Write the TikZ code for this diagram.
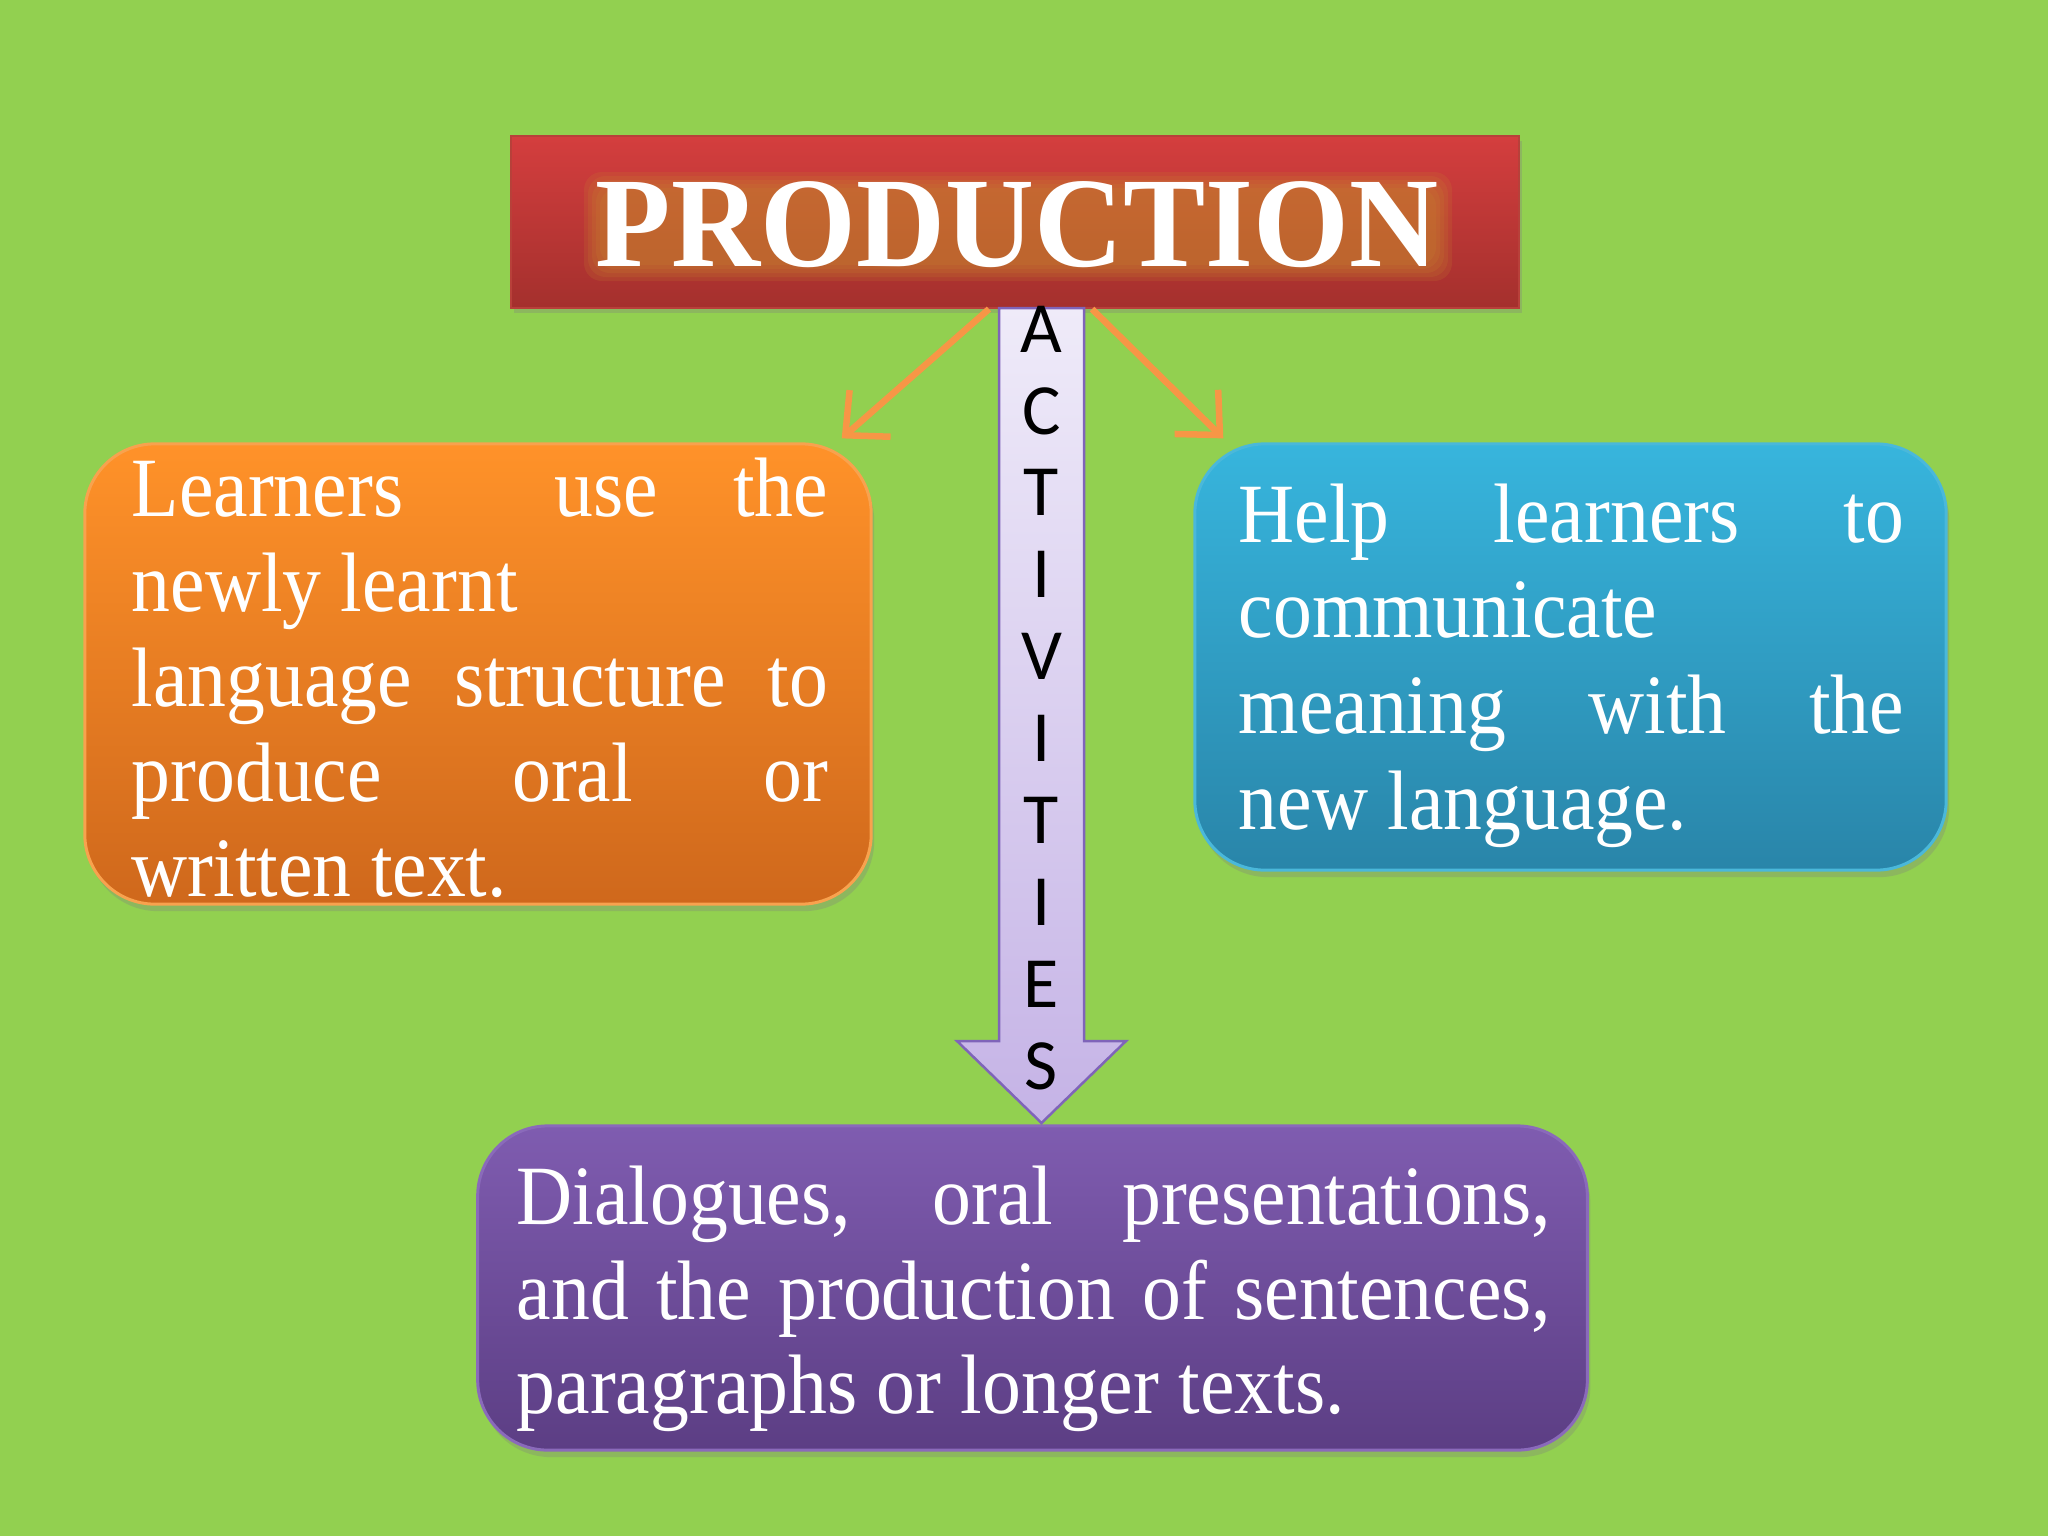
\documentclass[tikz,border=0pt]{standalone}
\usepackage{fontspec}
\setmainfont{Liberation Serif}[FakeStretch=0.92]
\newfontfamily\titlefont{Liberation Serif}[FakeStretch=0.96]
\newfontfamily\letterfont{Carlito}
\usetikzlibrary{arrows.meta,shadows,calc}
\definecolor{bg}{HTML}{92D050}
\definecolor{redTop}{HTML}{D43E3E}
\definecolor{redBot}{HTML}{A4302D}
\definecolor{redBorder}{HTML}{B8403A}
\definecolor{glow}{HTML}{C8882E}
\definecolor{orTop}{HTML}{FF9229}
\definecolor{orBot}{HTML}{CF681C}
\definecolor{orBorder}{HTML}{F8A24E}
\definecolor{blTop}{HTML}{37B5DD}
\definecolor{blBot}{HTML}{2985A9}
\definecolor{blBorder}{HTML}{4AB8DA}
\definecolor{puTop}{HTML}{7F5CB0}
\definecolor{puBot}{HTML}{5C3E84}
\definecolor{puBorder}{HTML}{8A6ABA}
\definecolor{arTop}{HTML}{EFEBF9}
\definecolor{arBot}{HTML}{C5B3E6}
\definecolor{arBorder}{HTML}{7F64B9}
\definecolor{conn}{HTML}{F79646}
\tikzset{
  box/.style={rounded corners=0.7cm, inner sep=0pt, line width=0.03cm,
    drop shadow={opacity=0.3, shadow xshift=0.03cm, shadow yshift=-0.07cm}},
  txt/.style={text=white, inner sep=0pt, anchor=base west,
    font=\fontsize{24}{27}\selectfont},
  connector/.style={draw=conn, line width=0.065cm,
    -{Straight Barb[length=0.33cm, width=0.62cm, line width=0.065cm]}},
  letter/.style={font=\letterfont\fontsize{20.5}{22}\selectfont, inner sep=0pt, text=black},
  titletxt/.style={font=\titlefont\bfseries\fontsize{36.5}{40}\selectfont, inner sep=0pt}
}
\begin{document}
\begin{tikzpicture}[x=0.01cm,y=-0.01cm]
\fill[bg] (0,0) rectangle (2048,1536);
\useasboundingbox (0,0) rectangle (2048,1536);

% title box
\node[inner sep=0pt, minimum width=10.08cm, minimum height=1.72cm,
  top color=redTop, bottom color=redBot, draw=redBorder, line width=0.02cm,
  drop shadow={opacity=0.3, shadow xshift=0.03cm, shadow yshift=-0.05cm}]
  (title) at (1015,222) {};
% soft glow band behind the title text
\foreach \d in {0,4,...,16} {
  \fill[glow, opacity=0.17, rounded corners=0.18cm]
    (600-\d,188-\d) rectangle (1436+\d,265+\d);
}
\node[titletxt, text=white] (ttext) at (1017,225) {PRODUCTION};

% boxes
\node[box, top color=orTop, bottom color=orBot, draw=orBorder,
  minimum width=7.86cm, minimum height=4.60cm] (orange) at (478,674) {};
\node[box, top color=blTop, bottom color=blBot, draw=blBorder,
  minimum width=7.51cm, minimum height=4.26cm] (blue) at (1570.5,657) {};
\node[box, top color=puTop, bottom color=puBot, draw=puBorder,
  minimum width=11.09cm, minimum height=3.24cm] (purple) at (1032.5,1288) {};

% orange text
\node[txt] (o1) at (131,516) {\makebox[6.96cm][s]{Learners\ \ use the}};
\node[txt] (o2) at (131,611) {newly learnt};
\node[txt] (o3) at (131,706) {\makebox[6.96cm][s]{language structure to}};
\node[txt] (o4) at (131,801) {\makebox[6.96cm][s]{produce oral or}};
\node[txt] (o5) at (131,896) {written text.};

% blue text
\node[txt] (b1) at (1238,542) {\makebox[6.65cm][s]{Help learners to}};
\node[txt] (b2) at (1238,637) {communicate};
\node[txt] (b3) at (1238,733) {\makebox[6.65cm][s]{meaning with the}};
\node[txt] (b4) at (1238,829) {new language.};

% purple text
\node[txt] (p1) at (516,1224) {\makebox[10.34cm][s]{Dialogues, oral presentations,}};
\node[txt] (p2) at (516,1319) {\makebox[10.34cm][s]{and the production of sentences,}};
\node[txt] (p3) at (516,1413) {paragraphs or longer texts.};

% big arrow
\draw[draw=arBorder, line width=0.025cm, top color=arTop, bottom color=arBot]
  (999,308) -- (1084,308) -- (1084,1041) -- (1126,1041) -- (1041.5,1123)
  -- (957,1041) -- (999,1041) -- cycle;
\foreach \l [count=\i from 0] in {A,C,T,I,V,I,T,I,E,S} {
  \node[letter] (L\i) at (1041.5, 329+81.9*\i) {\l};
}

% connectors
\draw[connector] ([xshift=-0.26cm]title.south) -- ([xshift=-0.31cm, yshift=0.04cm]orange.north east);
\draw[connector] ([xshift=0.77cm]title.south) -- ([xshift=0.30cm, yshift=0.04cm]blue.north west);
\end{tikzpicture}
\end{document}
